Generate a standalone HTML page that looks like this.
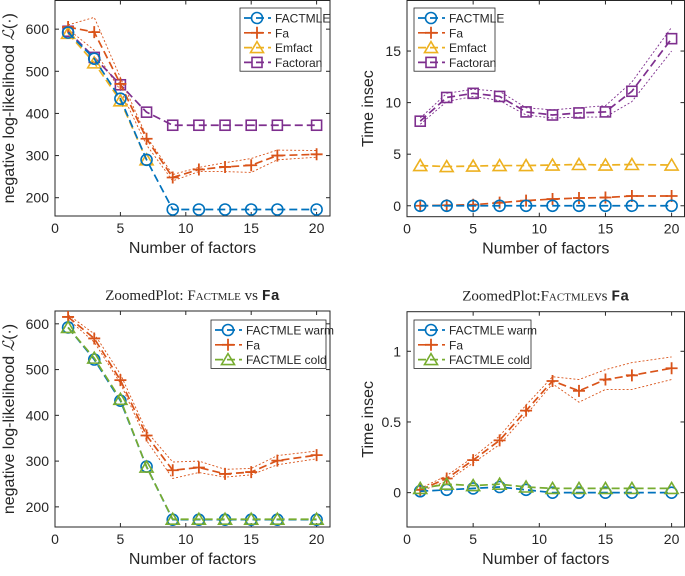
<!DOCTYPE html>
<html><head><meta charset="utf-8"><style>
body{margin:0;background:#fff;width:685px;height:571px;overflow:hidden}
svg{font-family:"Liberation Sans",sans-serif}
</style></head><body>
<svg id="s" width="685" height="571" xmlns="http://www.w3.org/2000/svg"></svg>
<script>
const xs=[1,3,5,7,9,11,13,15,17,20];
const xTicks=[0,5,10,15,20];
// panel 1
const p1Factmle=[592,530,435,290,172,172,172,172,172,172];
const p1Fa=[605,593,470,340,248,267,273,277,300,303];
const p1FaHi=[610,628,485,345,255,272,283,293,313,312];
const p1FaLo=[600,550,455,325,240,262,262,260,290,296];
const p1EmfactX=[1,3,5,7];
const p1Emfact=[590,520,430,290];
const p1Factoran=[595,533,468,403,372,372,372,372,372,372];
const p1Ticks=[200,300,400,500,600];
// panel 2
const p2Factmle=[0,0,0,0,0,0,0,0,0,0];
const p2Fa=[0,0.05,0.1,0.3,0.5,0.65,0.75,0.8,0.95,0.95];
const p2Emfact=[3.9,3.8,3.85,3.9,3.9,3.95,4.0,3.95,4.0,3.95];
const p2Factoran=[8.2,10.5,10.9,10.6,9.1,8.8,9.0,9.1,11.1,16.2];
const p2FacHi=[8.5,10.9,11.3,11.1,9.5,9.3,9.5,9.7,12.0,17.3];
const p2FacLo=[7.9,10.1,10.6,10.2,8.8,8.5,8.6,8.6,10.1,15.0];
const p2Ticks=[0,5,10,15];
// panel 3
const p3Warm=[592,522,432,288,172,172,172,172,172,172];
const p3Fa=[615,568,477,356,280,286,272,276,301,313];
const p3FaHi=[620,578,490,365,298,300,282,284,312,322];
const p3FaLo=[610,560,470,345,262,275,265,270,292,305];
const p3Cold=[592,525,435,287,173,173,173,173,173,173];
const p3Ticks=[200,300,400,500,600];
// panel 4
const p4Warm=[0.01,0.02,0.03,0.04,0.02,0,0,0,0,0];
const p4Fa=[0.02,0.1,0.23,0.37,0.58,0.79,0.72,0.80,0.83,0.88];
const p4FaHi=[0.03,0.12,0.25,0.40,0.62,0.82,0.80,0.87,0.92,0.96];
const p4FaLo=[0.01,0.08,0.21,0.34,0.55,0.77,0.64,0.73,0.73,0.80];
const p4Cold=[0.03,0.06,0.05,0.06,0.04,0.03,0.03,0.03,0.03,0.03];
const p4Ticks=[0,0.5,1];

const B='#0072BD',O='#D95319',Y='#EDB120',P='#7E2F8E',G='#77AC30';
const S=document.getElementById('s');
const NS='http://www.w3.org/2000/svg';
function el(t,a,p){const e=document.createElementNS(NS,t);for(const k in a)e.setAttribute(k,a[k]);(p||S).appendChild(e);return e;}
function mark(g,type,x,y,c){
  let m;
  if(type==='o')m=el('circle',{cx:x,cy:y,r:5.5,fill:'none',stroke:c,'stroke-width':1.6},g);
  else if(type==='+')m=el('path',{d:`M${x-6},${y}H${x+6}M${x},${y-6}V${y+6}`,stroke:c,'stroke-width':1.8},g);
  else if(type==='^')m=el('path',{d:`M${x},${y-6}L${x+6.5},${y+5}L${x-6.5},${y+5}Z`,fill:'none',stroke:c,'stroke-width':1.6},g);
  else m=el('rect',{x:x-5,y:y-5,width:10,height:10,fill:'none',stroke:c,'stroke-width':1.6},g);
  
  
}
function panel(cfg){
  const g=el('g',{});
  
  
  const Xs=v=>cfg.x0+v*cfg.xs;
  const Yv=v=>cfg.yb-(v-cfg.ymin)/(cfg.ymax-cfg.ymin)*(cfg.yb-cfg.yt);
  const clip='c'+cfg.name;
  const cp=el('clipPath',{id:clip},g);el('rect',{x:cfg.x0,y:cfg.yt,width:cfg.x1-cfg.x0,height:cfg.yb-cfg.yt},cp);
  const ax=el('rect',{x:cfg.x0,y:cfg.yt,width:cfg.x1-cfg.x0,height:cfg.yb-cfg.yt,fill:'none',stroke:'#262626','stroke-width':1},g);
  
  xTicks.forEach(t=>{const x=Xs(t);
    el('line',{x1:x,x2:x,y1:cfg.yb,y2:cfg.yb-4,stroke:'#262626'},g);
    el('line',{x1:x,x2:x,y1:cfg.yt,y2:cfg.yt+4,stroke:'#262626'},g);
    const tx=el('text',{x:x,y:cfg.yb+17,'font-size':14,'text-anchor':'middle',fill:'#262626'},g);tx.textContent=t;
    });
  cfg.yticks.forEach(t=>{const y=Yv(t);
    el('line',{x1:cfg.x0,x2:cfg.x0+4,y1:y,y2:y,stroke:'#262626'},g);
    el('line',{x1:cfg.x1,x2:cfg.x1-4,y1:y,y2:y,stroke:'#262626'},g);
    const tx=el('text',{x:cfg.x0-6,y:y+5,'font-size':14,'text-anchor':'end',fill:'#262626'},g);tx.textContent=t;
    });
  const xl=el('text',{x:(cfg.x0+cfg.x1)/2,y:cfg.yb+37,'font-size':16,'text-anchor':'middle',fill:'#262626'},g);xl.textContent='Number of factors';
  
  const yc=(cfg.yt+cfg.yb)/2;
  const yl=el('text',{x:cfg.ylx,y:yc,'font-size':16,'text-anchor':'middle',fill:'#262626',transform:`rotate(-90 ${cfg.ylx} ${yc})`},g);
  yl.innerHTML=cfg.ylabel;
  
  if(cfg.title){const t=el('text',{x:(cfg.x0+cfg.x1)/2,y:cfg.yt-11,'font-size':15,'text-anchor':'middle',fill:'#262626','font-family':'Liberation Serif,serif'},g);t.innerHTML=cfg.title;
    }
  const pg=el('g',{'clip-path':`url(#${clip})`},g);
  cfg.series.forEach(s=>{
    const sx=s.x||xs;
    const pts=s.v.map((v,i)=>Xs(sx[i])+','+Yv(v)).join(' ');
    if(s.band){const l=el('polyline',{points:pts,fill:'none',stroke:s.c,'stroke-width':0.9,'stroke-dasharray':'2,2'},pg);
      return;}
    const l=el('polyline',{points:pts,fill:'none',stroke:s.c,'stroke-width':1.7,'stroke-dasharray':'8,4'},pg);
    
    s.v.forEach((v,i)=>mark(pg,s.m,Xs(sx[i]),Yv(v),s.c));
  });
  const L=cfg.leg;
  const lg=el('g',{},g);
  el('rect',{x:L.x,y:L.y,width:L.w,height:L.items.length*14.8+4,fill:'#fff',stroke:'#262626','stroke-width':0.8},lg);
  L.items.forEach((it,i)=>{const y=L.y+10+i*14.8;
    const e=el('g',{},lg);
    el('line',{x1:L.x+4,x2:L.x+31,y1:y,y2:y,stroke:it.c,'stroke-width':1.7,'stroke-dasharray':'8,4'},e);
    mark(e,it.m,L.x+17,y,it.c);
    const t=el('text',{x:L.x+35,y:y+4.5,'font-size':12,fill:'#262626'},e);t.textContent=it.t;});
}
const LLbl='negative log-likelihood <tspan font-family="Liberation Serif,serif" font-style="italic">ℒ</tspan>(·)';
panel({name:'nll-panel',x0:55,x1:330,xs:13.08,yt:0.5,yb:216,ymin:156.6,ymax:668,yticks:p1Ticks,ylx:14,ylabel:LLbl,
 series:[{v:p1FaHi,c:O,band:1},{v:p1FaLo,c:O,band:1},{v:p1Factoran,c:P,m:'s'},{v:p1Fa,c:O,m:'+'},{v:p1Emfact,x:p1EmfactX,c:Y,m:'^'},{v:p1Factmle,c:B,m:'o'}],
 leg:{x:240,y:8,w:81,items:[{t:'FACTMLE',c:B,m:'o'},{t:'Fa',c:O,m:'+'},{t:'Emfact',c:Y,m:'^'},{t:'Factoran',c:P,m:'s'}]}});
panel({name:'time-panel',x0:407,x1:684.5,xs:13.23,yt:0.5,yb:216.7,ymin:-1.06,ymax:19.9,yticks:p2Ticks,ylx:373,ylabel:'Time insec',
 series:[{v:p2FacHi,c:P,band:1},{v:p2FacLo,c:P,band:1},{v:p2Factoran,c:P,m:'s'},{v:p2Emfact,c:Y,m:'^'},{v:p2Fa,c:O,m:'+'},{v:p2Factmle,c:B,m:'o'}],
 leg:{x:414,y:8,w:81,items:[{t:'FACTMLE',c:B,m:'o'},{t:'Fa',c:O,m:'+'},{t:'Emfact',c:Y,m:'^'},{t:'Factoran',c:P,m:'s'}]}});
panel({name:'zoomed-nll-panel',x0:55,x1:330,xs:13.08,yt:311,yb:527,ymin:156,ymax:628,yticks:p3Ticks,ylx:14,ylabel:LLbl,
 title:'ZoomedPlot: F<tspan font-size="11">ACTMLE</tspan> vs <tspan font-family="Liberation Mono,monospace" font-weight="bold">Fa</tspan>',
 series:[{v:p3FaHi,c:O,band:1},{v:p3FaLo,c:O,band:1},{v:p3Fa,c:O,m:'+'},{v:p3Warm,c:B,m:'o'},{v:p3Cold,c:G,m:'^'}],
 leg:{x:211,y:320,w:115,items:[{t:'FACTMLE warm',c:B,m:'o'},{t:'Fa',c:O,m:'+'},{t:'FACTMLE cold',c:G,m:'^'}]}});
panel({name:'zoomed-time-panel',x0:407,x1:684.5,xs:13.23,yt:311.7,yb:527,ymin:-0.243,ymax:1.28,yticks:p4Ticks,ylx:373,ylabel:'Time insec',
 title:'ZoomedPlot:F<tspan font-size="11">ACTMLE</tspan>vs <tspan font-family="Liberation Mono,monospace" font-weight="bold">Fa</tspan>',
 series:[{v:p4FaHi,c:O,band:1},{v:p4FaLo,c:O,band:1},{v:p4Fa,c:O,m:'+'},{v:p4Warm,c:B,m:'o'},{v:p4Cold,c:G,m:'^'}],
 leg:{x:414,y:320,w:117,items:[{t:'FACTMLE warm',c:B,m:'o'},{t:'Fa',c:O,m:'+'},{t:'FACTMLE cold',c:G,m:'^'}]}});
</script>
</body></html>
